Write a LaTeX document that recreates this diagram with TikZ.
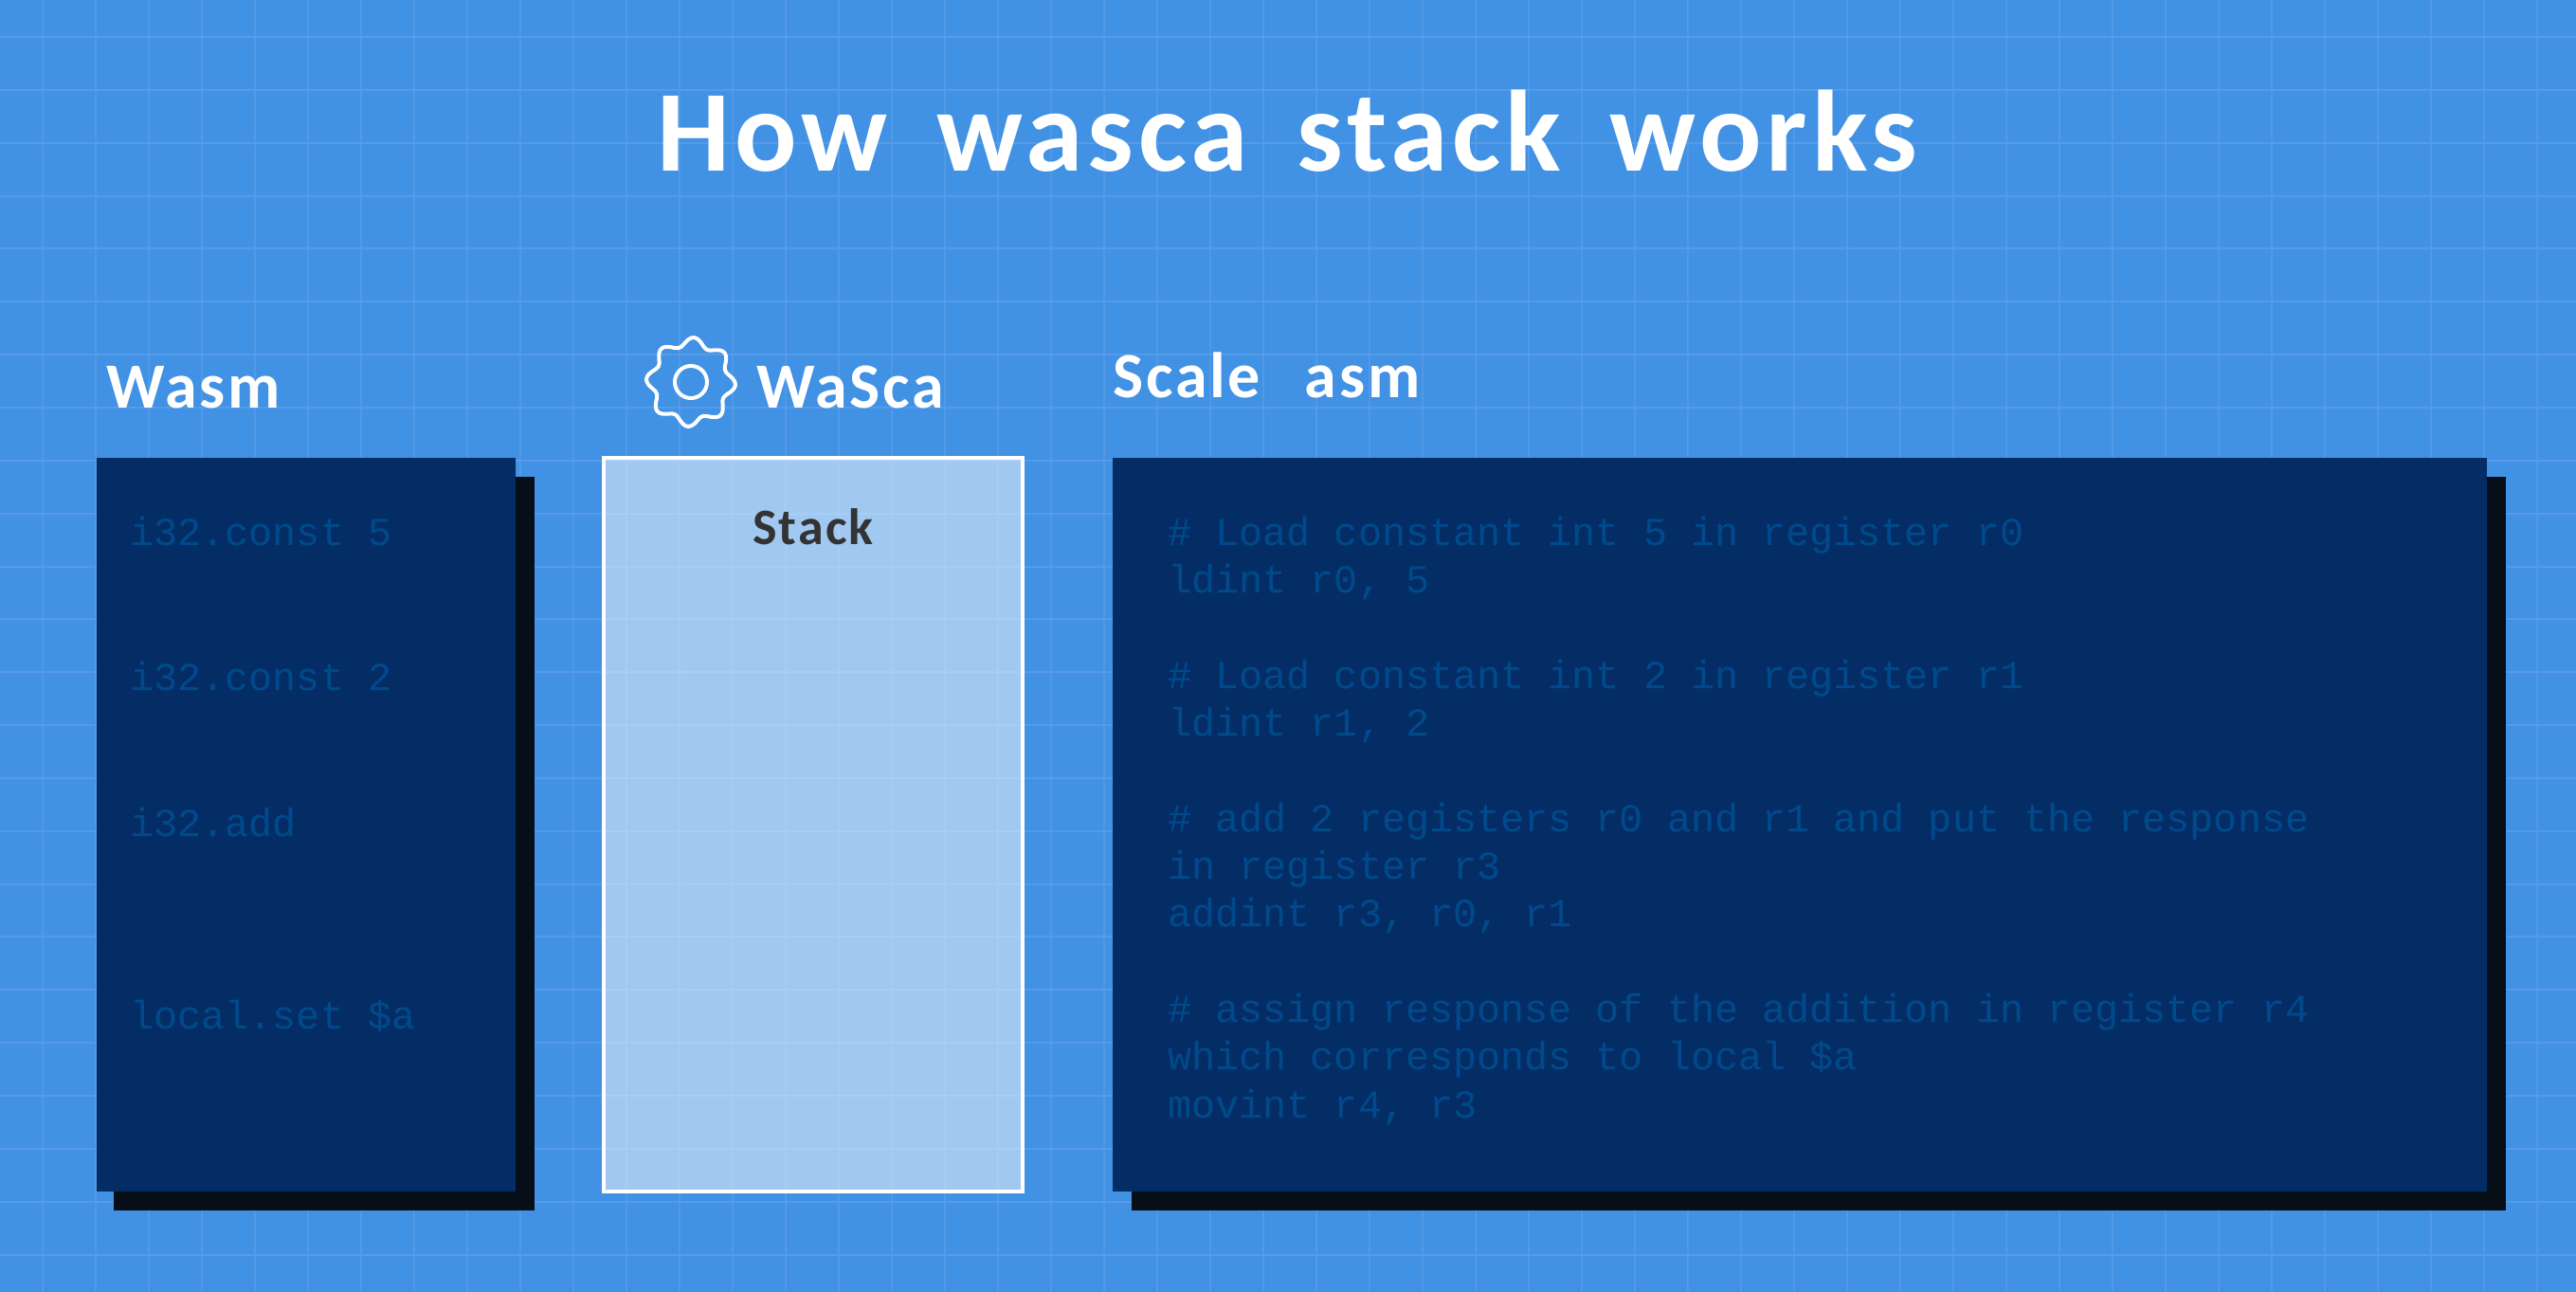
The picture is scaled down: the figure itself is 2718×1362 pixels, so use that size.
\documentclass[tikz,border=0pt]{standalone}
\usepackage{fontspec}
\setmonofont{Liberation Mono}
\newfontfamily\sketchfont[LetterSpace=4,WordSpace=1.6]{Carlito}
\definecolor{blueprint}{HTML}{4191E4}
\definecolor{gridline}{HTML}{5299E6}
\definecolor{gridrow}{HTML}{569BE7}
\definecolor{panelblue}{HTML}{042D66}
\definecolor{panelshadow}{HTML}{060F17}
\definecolor{codeblue}{HTML}{004A8C}
\tikzstyle{panel}=[fill=panelblue,anchor=north west,inner sep=0pt,outer sep=0pt]
\tikzstyle{panel shadow}=[fill=panelshadow,anchor=north west,inner sep=0pt,outer sep=0pt]
\tikzstyle{grid column}=[color=gridline,line width=0.75pt]
\tikzstyle{grid row}=[color=gridrow,line width=1pt]
\tikzstyle{code}=[color=codeblue,anchor=base west,inner sep=0pt,align=left,
    font=\ttfamily\fontsize{20.9}{25.15}\selectfont]
\tikzstyle{heading}=[color=white,anchor=base west,inner sep=0pt,
    font=\sketchfont\bfseries\fontsize{34}{38}\selectfont]
\tikzstyle{title}=[color=white,anchor=base west,inner sep=0pt,
    font=\sketchfont\bfseries\fontsize{61}{66}\selectfont]
\tikzstyle{gear line}=[draw=white,line width=2pt]
\newcommand{\panelbox}[5][20]{
    \node[panel shadow,minimum width=(#4+20-#1)*0.5pt,minimum height=#5*0.5pt] at ($(#2)+(#1,20)$) (#3 shadow) {};
    \node[panel,minimum width=#4*0.5pt,minimum height=#5*0.5pt] at (#2) (#3) {};
}
\usetikzlibrary{calc}
\begin{document}
\begin{tikzpicture}[x=0.5pt,y=-0.5pt]
    \useasboundingbox (0,0) rectangle (2718,1362);
    \fill[blueprint] (-10,-10) rectangle (2728,1372);
    \foreach \k in {0,...,47}
        \draw[grid column] ({45+56*\k},-10) -- ({45+56*\k},1372);
    \foreach \k in {0,...,23}
        \draw[grid row] (-10,{39+55.85*\k}) -- (2728,{39+55.85*\k});
    %
    \node[title] at (693,180) (title) {How wasca stack works};
    %
    \node[heading] at (112,430) (wasm label) {Wasm};
    \node[heading] at (798,430) (wasca label) {WaSca};
    \node[heading] at (1174,419) (scale label) {Scale\hspace{9pt} asm};
    \draw[gear line] plot[smooth cycle,domain=0:355,samples=72]
        ({729+(42.5+4.5*sin(8*\x+60))*cos(\x)},{403+(42.5+4.5*sin(8*\x+60))*sin(\x)});
    \node[circle,gear line,minimum size=17pt,inner sep=0pt] at (729,403) (gear hub) {};
    %
    \panelbox[18]{102,483}{wasm}{442}{774}
    \panelbox{1174,483}{scale}{1450}{774}
    \node[fill=white,fill opacity=0.5,draw=white,draw opacity=1,line width=2pt,
        anchor=north west,inner sep=0pt,outer sep=0pt,
        minimum width=221pt,minimum height=387pt] at (637,483) (stack) {};
    \node[anchor=base,inner sep=0pt,color=black!80,
        font=\sketchfont\bfseries\fontsize{27}{30}\selectfont] at (858,574) (stack label) {Stack};
    %
    \foreach \y/\op/\name in {575/i32.const 5/first,728/i32.const 2/second,
        882/i32.add/sum,1085/local.set \$a/assign}
        \node[code] at (137,\y) (wasm \name) {\op};
    %
    \node[code] at (1232,1179) (scale code) {\# Load constant int 5 in register r0\\
        ldint r0, 5\\[25.15pt]
        \# Load constant int 2 in register r1\\
        ldint r1, 2\\[25.15pt]
        \# add 2 registers r0 and r1 and put the response\\
        in register r3\\
        addint r3, r0, r1\\[25.15pt]
        \# assign response of the addition in register r4\\
        which corresponds to local \$a\\
        movint r4, r3};
\end{tikzpicture}
\end{document}
